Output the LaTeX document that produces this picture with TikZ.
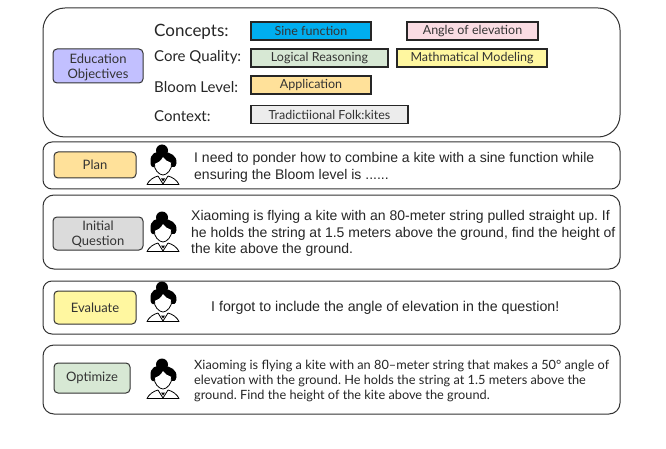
\documentclass[tikz,border=0pt]{standalone}
\usepackage{fontspec}
\setmainfont{Liberation Sans}
\newfontfamily\roundfont{Lato}
\newfontfamily\speechfont{Liberation Sans}
\frenchspacing
\definecolor{sineblue}{HTML}{00AEEF}
\definecolor{anglepink}{HTML}{FADCE3}
\definecolor{logicgreen}{HTML}{D7E8D4}
\definecolor{mathyellow}{HTML}{FFF7A0}
\definecolor{planorange}{HTML}{FFE19A}
\definecolor{contextgray}{HTML}{ECECEC}
\definecolor{initgray}{HTML}{DBDBDB}
\definecolor{objpurple}{HTML}{C2C0FF}
\definecolor{linegray}{HTML}{333333}

\tikzstyle{panel}=[draw=linegray,line width=1pt,fill=white,inner sep=0pt]
\tikzstyle{stage}=[draw=linegray,line width=1pt,rounded corners=4pt,inner sep=0pt,align=center,font=\roundfont\fontsize{13}{15}\selectfont,text=black!80]
\tikzstyle{tag}=[draw=black!85,line width=1.1pt,inner sep=0pt,minimum height=18pt,font=\roundfont\fontsize{12.5}{15}\selectfont,text=black!80]
\tikzstyle{field}=[anchor=west,inner sep=0pt,text=black!85]
\tikzstyle{speech}=[anchor=west,inner sep=0pt,align=left,text=black!85]
\tikzset{teacher/.pic={
  \fill[black] (-1,-14.5) circle (6);
  \fill[black] (-12.5,-3) .. controls (-13,-12) and (-7,-14) .. (0,-13) .. controls (8,-13) and (14,-9) .. (13.5,-2) .. controls (13,2) and (10.5,3) .. (8,2) -- (-8,2) .. controls (-11,3) and (-12.5,1) .. (-12.5,-3);
  \fill[white] (-8.5,-1) .. controls (-5,-2) and (-2,-4) .. (0,-8) .. controls (2,-5) and (5,-3) .. (8.5,-2) .. controls (9.5,4) and (4,10) .. (0,10) .. controls (-4,10) and (-9.5,4) .. (-8.5,-1);
  \draw[black,line width=.8pt] (-8.5,-1) .. controls (-9.5,4) and (-4,10) .. (0,10) .. controls (4,10) and (9.5,4) .. (8.5,-2);
  \draw[black,line width=.8pt,line join=round] (-5,11) .. controls (-9,12) and (-14,15) .. (-16,19.5) -- (16,19.5) .. controls (14,15) and (9,12) .. (5,11);
  \draw[black,line width=.8pt] (-5,11) -- (0,19) -- (5,11);
  \fill[black] (-2,13.5) -- (2,13.5) -- (0,16.5) -- cycle;
}}

\begin{document}
\begin{tikzpicture}[x=1pt,y=-1pt]
     \useasboundingbox (0,0) rectangle (666,449);
     % Outer panels first
     \foreach \name/\top/\bot/\rad in {objpanel/8/137/22, planpanel/142/189/9, initpanel/195/269/11, evalpanel/281/334/9, optpanel/345/414/11}
     \draw[panel,rounded corners=\rad pt] (43,\top) rectangle (620,\bot);

     % Stage labels on the left
     \foreach \pos/\name/\wid/\hei/\col/\txt in {{(98,66)/objectives/90/34/objpurple/\rule{0pt}{11.5pt}Education\\Objectives}, {(95,165)/plan/82/26/planorange/Plan},
       {(98,233.5)/initial/90/33/initgray/\rule{0pt}{11.5pt}Initial\\Question}, {(95,307.5)/evaluate/82/33/mathyellow/Evaluate}, {(92,378)/optimize/76/30/logicgreen/Optimize}}
     \node[stage,fill=\col,minimum width=\wid pt,minimum height=\hei pt] (\name) at \pos {\txt};

     % Field names and their tags
     \foreach \pos/\name/\size/\txt in {{(154,31.5)/concepts/17/Concepts:}, {(154,57)/core/15/Core Quality:},
       {(154,87)/bloom/15/Bloom Level:}, {(154,116)/context/15/Context:}}
     \node[field,font=\roundfont\fontsize{\size}{18}\selectfont] (\name) at \pos {\txt};

     \foreach \pos/\name/\wid/\col/\txt in {{(311,31)/sine/120/sineblue/Sine function}, {(472.5,31)/angle/131/anglepink/Angle of elevation},
       {(319.5,58)/logical/137/logicgreen/Logical Reasoning}, {(472,58)/modeling/150/mathyellow/Mathmatical Modeling},
       {(311,85)/application/120/planorange/Application}, {(329.5,114.5)/folk/157/contextgray/Tradictiional Folk:kites}}
     \node[tag,fill=\col,minimum width=\wid pt] (\name) at \pos {\txt};

     % Same figure beside every stage
     \foreach \pos/\name in {{(163,165)/manplan}, {(163,232)/maninit}, {(163,302)/maneval}, {(163,379)/manopt}}
     \path \pos pic (\name) {teacher};

     % What is said
     \node[speech,font=\speechfont\fontsize{14}{17}\selectfont] (plantext) at (194,167) {I need to ponder how to combine a kite with a sine function while\\ensuring the Bloom level is ......};
     \node[speech,font=\speechfont\fontsize{14}{16.7}\selectfont] (inittext) at (191,233.5) {Xiaoming is flying a kite with an 80-meter string pulled straight up. If\\he holds the string at 1.5 meters above the ground, find the height of\\the kite above the ground.};
     \node[speech,font=\speechfont\fontsize{14.2}{17}\selectfont] (evaltext) at (211,308) {I forgot to include the angle of elevation in the question!};
     \node[speech,font=\roundfont\fontsize{12.75}{15}\selectfont] (opttext) at (194,381) {Xiaoming is flying a kite with an 80\textendash meter string that makes a 50° angle of\\elevation with the ground. He holds the string at 1.5 meters above the\\ground. Find the height of the kite above the ground.};
\end{tikzpicture}
\end{document}
